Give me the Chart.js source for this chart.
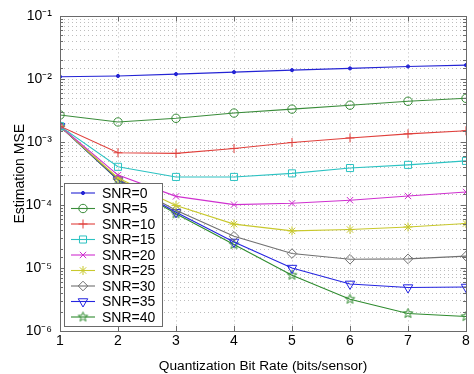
<!DOCTYPE html>
<html>
<head>
<meta charset="utf-8">
<script src="https://cdn.jsdelivr.net/npm/chart.js@4/dist/chart.umd.min.js"></script>
<style>
html,body{margin:0;padding:0;background:#fff;}
#wrap{width:474px;height:374px;position:relative;}
</style>
</head>
<body>
<div id="wrap"><canvas id="c" width="474" height="374"></canvas></div>
<script>
// ---- data ----
const bitRates = [1, 2, 3, 4, 5, 6, 7, 8];
const seriesNames = ['SNR=0', 'SNR=5', 'SNR=10', 'SNR=15', 'SNR=20', 'SNR=25', 'SNR=30', 'SNR=35', 'SNR=40'];
const snr0  = [0.0110, 0.0113, 0.0121, 0.0130, 0.0140, 0.0149, 0.0160, 0.0168];
const snr5  = [0.00271, 0.00210, 0.00240, 0.00291, 0.00336, 0.00388, 0.00448, 0.00499];
const snr10 = [0.00180, 0.00068, 0.000665, 0.000797, 0.00099, 0.00117, 0.00136, 0.00152];
const snr15 = [0.00180, 0.000407, 0.000281, 0.000281, 0.00032, 0.000389, 0.000437, 0.000505];
const snr20 = [0.00180, 0.000300, 0.000138, 0.000102, 0.000107, 0.000120, 0.000140, 0.000162];
const snr25 = [0.00180, 0.000270, 0.000099, 0.000050, 0.000039, 0.000041, 0.000045, 0.000051];
const snr30 = [0.00180, 0.000260, 0.000083, 0.000032, 0.000017, 0.0000138, 0.000014, 0.0000155];
const snr35 = [0.00180, 0.000255, 0.000077, 0.000026, 0.0000100, 0.0000056, 0.0000049, 0.0000050];
const snr40 = [0.00180, 0.000250, 0.000073, 0.0000237, 0.0000077, 0.0000032, 0.0000019, 0.0000017];
const seriesValues = [snr0, snr5, snr10, snr15, snr20, snr25, snr30, snr35, snr40];
const yTickExponents = [-6, -5, -4, -3, -2, -1];
const yTickLabels = ['10\u207B\u2076', '10\u207B\u2075', '10\u207B\u2074', '10\u207B\u00B3', '10\u207B\u00B2', '10\u207B\u00B9'];
const xTitle = 'Quantization Bit Rate (bits/sensor)';
const yTitle = 'Estimation MSE';

// ---- styles ----
function makePentagram(color, r) {
  const s = Math.ceil(2 * r + 3);
  const c = document.createElement('canvas');
  c.width = s; c.height = s;
  const ctx = c.getContext('2d');
  ctx.strokeStyle = color; ctx.lineWidth = 1;
  ctx.beginPath();
  for (let i = 0; i < 10; i++) {
    const rr = i % 2 === 0 ? r : r * 0.42;
    const a = -Math.PI / 2 + i * Math.PI / 5;
    const px = s / 2 + rr * Math.cos(a), py = s / 2 + rr * Math.sin(a);
    if (i === 0) ctx.moveTo(px, py); else ctx.lineTo(px, py);
  }
  ctx.closePath(); ctx.stroke();
  return c;
}
const styles = [
  {color: '#2424d4', pointStyle: 'circle', radius: 1.6, fill: true, rotation: 0},
  {color: '#3a8c3a', pointStyle: 'circle', radius: 4.2, fill: false, rotation: 0},
  {color: '#e0403c', pointStyle: 'cross', radius: 4.5, fill: false, rotation: 0},
  {color: '#2cc2c2', pointStyle: 'rect', radius: 5, fill: false, rotation: 0},
  {color: '#cf30cf', pointStyle: 'crossRot', radius: 4.5, fill: false, rotation: 0},
  {color: '#c8c82c', pointStyle: 'star', radius: 4.5, fill: false, rotation: 0},
  {color: '#707070', pointStyle: 'rectRot', radius: 4.8, fill: false, rotation: 0},
  {color: '#2424e0', pointStyle: 'triangle', radius: 5.5, fill: false, rotation: 180},
  {color: '#2e8b2e', pointStyle: makePentagram('#2e8b2e', 5), radius: 5, fill: false, rotation: 0}
];

const datasets = seriesNames.map((name, i) => ({
  label: name,
  data: bitRates.map((x, j) => ({x: x, y: seriesValues[i][j]})),
  borderColor: styles[i].color,
  backgroundColor: styles[i].fill ? styles[i].color : 'rgba(0,0,0,0)',
  pointBorderColor: styles[i].color,
  pointBackgroundColor: styles[i].fill ? styles[i].color : 'rgba(0,0,0,0)',
  pointStyle: styles[i].pointStyle,
  pointRadius: styles[i].radius,
  pointHoverRadius: styles[i].radius,
  pointRotation: styles[i].rotation,
  pointBorderWidth: 1,
  borderWidth: 1.1,
  tension: 0,
  fill: false
}));

const FONT = 'Liberation Sans, Arial, Helvetica, sans-serif';
const GRID_COLOR = '#bdbdbd';

const framePlugin = {
  id: 'frame',
  afterDatasetsDraw(chart) {
    const {ctx, chartArea: a} = chart;
    const ys = chart.scales.y, xs = chart.scales.x;
    ctx.save();
    ctx.strokeStyle = '#6a6a6a';
    ctx.lineWidth = 1;
    ctx.beginPath();
    ys.ticks.forEach(t => {
      const py = Math.round(ys.getPixelForValue(t.value)) + 0.5;
      const len = t.major ? 5 : 3;
      ctx.moveTo(a.left, py); ctx.lineTo(a.left + len, py);
      ctx.moveTo(a.right, py); ctx.lineTo(a.right - len, py);
    });
    xs.ticks.forEach(t => {
      const px = Math.round(xs.getPixelForValue(t.value)) + 0.5;
      ctx.moveTo(px, a.bottom); ctx.lineTo(px, a.bottom - 5);
      ctx.moveTo(px, a.top); ctx.lineTo(px, a.top + 5);
    });
    ctx.stroke();
    ctx.strokeRect(Math.round(a.left) + 0.5, Math.round(a.top) + 0.5, Math.round(a.right - a.left), Math.round(a.bottom - a.top));
    ctx.restore();
  },
  afterDraw(chart) {
    const ctx = chart.ctx;
    const a = chart.chartArea;
    const bx = a.left + 4, by = 183, bw = 98, bh = 143;
    ctx.save();
    ctx.fillStyle = '#fff';
    ctx.fillRect(bx, by, bw, bh);
    ctx.strokeStyle = '#6a6a6a';
    ctx.lineWidth = 1;
    ctx.strokeRect(bx + 0.5, by + 0.5, bw, bh);
    chart.data.datasets.forEach((ds, i) => {
      const y = 193 + i * 15.5;
      ctx.strokeStyle = ds.borderColor;
      ctx.lineWidth = 1.1;
      ctx.beginPath();
      ctx.moveTo(bx + 7, y); ctx.lineTo(bx + 31, y);
      ctx.stroke();
      ctx.fillStyle = ds.pointBackgroundColor;
      ctx.strokeStyle = ds.pointBorderColor;
      ctx.lineWidth = 1;
      Chart.helpers.drawPoint(ctx, {
        pointStyle: ds.pointStyle, radius: ds.pointRadius, rotation: ds.pointRotation, borderWidth: 1
      }, bx + 19, y);
      ctx.fillStyle = '#000';
      ctx.font = '14px ' + FONT;
      ctx.textBaseline = 'middle';
      ctx.textAlign = 'left';
      ctx.fillText(ds.label, bx + 38, y + 1);
    });
    ctx.restore();
  }
};

new Chart(document.getElementById('c'), {
  type: 'line',
  data: {datasets: datasets},
  plugins: [framePlugin],
  options: {
    responsive: false,
    animation: false,
    events: [],
    layout: {padding: {left: 0, right: 8, top: 11, bottom: 0}},
    plugins: {legend: {display: false}, tooltip: {enabled: false}},
    scales: {
      x: {
        type: 'linear', min: 1, max: 8,
        ticks: {stepSize: 1, color: '#000', font: {family: FONT, size: 14}, padding: 2},
        grid: {color: GRID_COLOR, drawTicks: false, borderDash: [1, 3]},
        border: {display: false, dash: [1, 3]},
        title: {display: true, text: xTitle, color: '#000', font: {family: FONT, size: 13.7}, padding: {top: 0, bottom: 0}},
        afterFit(s) { s.height = 43; }
      },
      y: {
        type: 'logarithmic', min: 1e-6, max: 1e-1,
        ticks: {
          autoSkip: false, color: '#000', font: {family: FONT, size: 14}, padding: 8,
          callback(v) {
            const e = Math.log10(v);
            const idx = yTickExponents.findIndex(k => Math.abs(k - e) < 1e-6);
            return idx >= 0 ? yTickLabels[idx] : '';
          }
        },
        grid: {color: GRID_COLOR, drawTicks: false, borderDash: [1, 3]},
        border: {display: false, dash: [1, 3]},
        title: {display: true, text: yTitle, color: '#000', font: {family: FONT, size: 14}, padding: {top: 11.5, bottom: 0}},
        afterFit(s) { s.width = 60; }
      }
    }
  }
});
</script>
</body>
</html>
